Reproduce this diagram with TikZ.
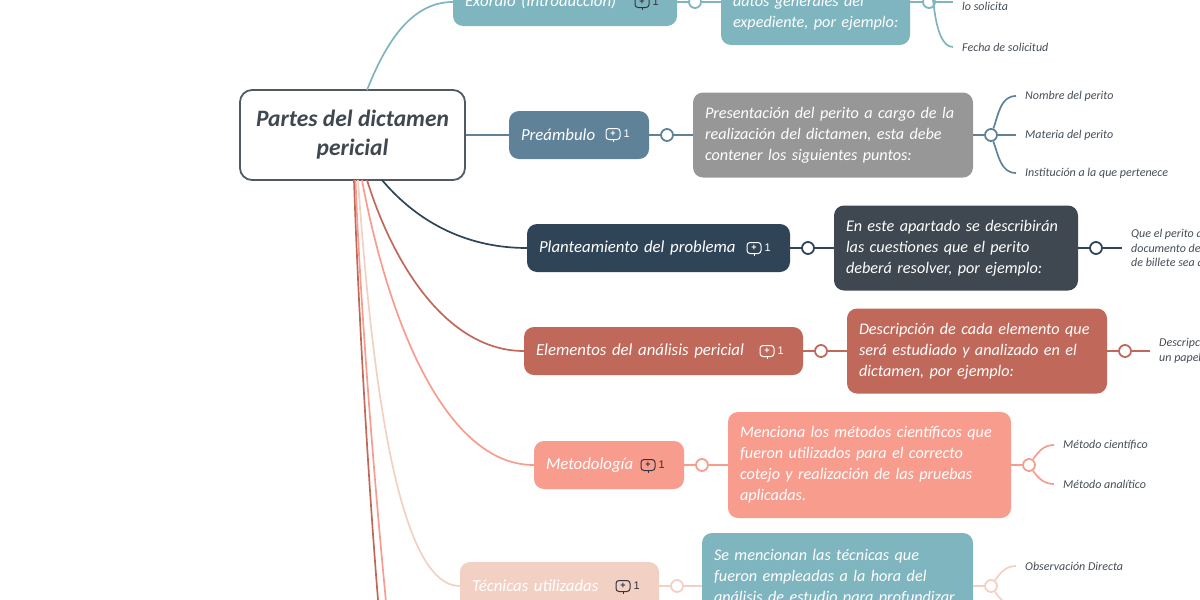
\documentclass[tikz,border=0pt]{standalone}
\usepackage{fontspec}
\setmainfont{Carlito}
\newfontfamily\countfont{Liberation Sans}
\usetikzlibrary{positioning}
\definecolor{exocol}{HTML}{7FB5BF}
\definecolor{precol}{HTML}{5F8299}
\definecolor{placol}{HTML}{2F4557}
\definecolor{elecol}{HTML}{C0685A}
\definecolor{metcol}{HTML}{F89C8E}
\definecolor{teccol}{HTML}{F2D1C4}
\definecolor{graycol}{HTML}{979797}
\definecolor{darkcol}{HTML}{3F4850}
\definecolor{leafcol}{HTML}{444D56}
\definecolor{notecol}{HTML}{33343C}
\tikzset{
  rootbox/.style={rectangle,rounded corners=12pt,draw=darkcol!90,line width=1.8pt,fill=white,text=darkcol,align=center,
    minimum width=225pt,minimum height=90pt,font=\fontsize{23.5}{29}\selectfont\bfseries\itshape},
  topicbox/.style={rectangle,rounded corners=10pt,fill=#1,text=white,align=left,inner xsep=12pt,inner ysep=0pt,
    minimum height=48pt,font=\fontsize{16.8}{21}\selectfont\itshape},
  detailbox/.style={topicbox=#1,minimum height=85pt,font=\fontsize{16.2}{21}\selectfont\itshape},
  leaf/.style={anchor=west,inner xsep=9pt,inner ysep=0pt,align=left,text=leafcol,font=\fontsize{12}{14.5}\selectfont\itshape},
  dot/.style={circle,draw=#1,fill=white,line width=1.8pt,inner sep=0pt,minimum size=12pt},
  link/.style={draw=#1,line width=1.7pt},
  noteicon/.style={rectangle,rounded corners=3pt,line width=1pt,inner sep=0pt,minimum width=14pt,minimum height=11pt,font=\fontsize{9}{9}\countfont\bfseries},
  notecount/.style={inner sep=0pt,font=\fontsize{11}{11}\countfont},
}
\newcommand{\notemark}[4]{
  \node[noteicon,draw=#4,text=#4] (#1) at (#2,#3) {+};
  \draw[#4,line width=1pt] (#1.south) -- ++(0,2);
  \node[notecount,text=#4,right=3pt of #1] (#1n) {1};
}
\begin{document}
\begin{tikzpicture}[x=1pt,y=-1pt]
  \clip (0,0) rectangle (1200,600);
  % centre and first level
  \node[rootbox] (root) at (352.5,135) {Partes del dictamen\\pericial};
  \node[topicbox=exocol,text width=200pt] (exordio) at (565,2) {Exordio (Introducción)};
  \node[topicbox=precol,text width=116pt] (preambulo) at (579,135) {Preámbulo};
  \node[topicbox=placol,text width=239pt] (problema) at (658.5,248) {Planteamiento del problema};
  \node[topicbox=elecol,text width=255pt] (elementos) at (663.5,351) {Elementos del análisis pericial};
  \node[topicbox=metcol,text width=126pt] (metodo) at (609,465) {Metodología};
  \node[topicbox=teccol,text width=175pt] (tecnicas) at (559.5,586) {Técnicas utilizadas};
  \notemark{noteexo}{642}{2}{notecol}
  \notemark{notepre}{613}{134}{white}
  \notemark{notepla}{754}{248}{white}
  \notemark{noteele}{767}{351}{white}
  \notemark{notemet}{648}{465}{notecol}
  \notemark{notetec}{623}{586}{notecol}
  % second level
  \node[detailbox=exocol,text width=165pt,minimum height=86pt] (exodet) at (815.5,2) {~\\[12pt]datos generales del\\\mbox{expediente, por ejemplo:}};
  \node[detailbox=graycol,text width=256pt] (predet) at (833,135) {Presentación del perito a cargo de la\\realización del dictamen, esta debe\\contener los siguientes puntos:};
  \node[detailbox=darkcol,text width=220pt] (pladet) at (956,248) {En este apartado se describirán\\las cuestiones que el perito\\deberá resolver, por ejemplo:};
  \node[detailbox=elecol,text width=236pt] (eledet) at (977,351) {Descripción de cada elemento que\\será estudiado y analizado en el\\dictamen, por ejemplo:};
  \node[detailbox=metcol,text width=259pt,minimum height=106pt] (metdet) at (869.5,465) {Menciona los métodos científicos que\\fueron utilizados para el correcto\\cotejo y realización de las pruebas\\aplicadas.};
  \node[detailbox=exocol,text width=247pt,minimum height=106pt] (tecdet) at (837.5,586) {Se mencionan las técnicas que\\fueron empleadas a la hora del\\análisis de estudio para profundizar\\~};
  % dots
  \node[dot=exocol] (exodot) at (695,2) {};
  \node[dot=precol] (predot) at (667,135) {};
  \node[dot=placol] (pladot) at (808,248) {};
  \node[dot=elecol] (eledot) at (821,351) {};
  \node[dot=metcol] (metdot) at (702,465) {};
  \node[dot=teccol] (tecdot) at (677,586) {};
  \node[dot=exocol] (exodot2) at (929,2) {};
  \node[dot=precol] (predot2) at (991,135) {};
  \node[dot=placol] (pladot2) at (1096,248) {};
  \node[dot=elecol] (eledot2) at (1125,351) {};
  \node[dot=metcol] (metdot2) at (1029,465) {};
  \node[dot=teccol] (tecdot2) at (991,586) {};
  % leaves
  \node[leaf] (exoleaf1) at (953,2) {~\\[2pt]lo solicita};
  \node[leaf] (exoleaf2) at (953,47) {Fecha de solicitud};
  \node[leaf] (preleaf1) at (1016,96) {Nombre del perito};
  \node[leaf] (preleaf2) at (1016,135) {Materia del perito};
  \node[leaf] (preleaf3) at (1016,173) {Institución a la que pertenece};
  \node[leaf] (plaleaf) at (1122,248) {Que el perito a\\documento de\\de billete sea a};
  \node[leaf] (eleleaf) at (1150,351) {Descripci\\un papel};
  \node[leaf] (metleaf1) at (1054,445) {Método científico};
  \node[leaf] (metleaf2) at (1054,484) {Método analítico};
  \node[leaf] (tecleaf1) at (1016,566) {Observación Directa};
  % ends on the edge of the centre box, and below the page
  \coordinate (rootexo) at (367,90);
  \coordinate (rootpla) at (382,180);
  \coordinate (rootele) at (367,180);
  \coordinate (rootmet) at (362,180);
  \coordinate (roottec) at (358,180);
  \coordinate (rootlow) at (354,180);
  \coordinate (rootlow2) at (355.5,180);
  \coordinate (lowend) at (379,612);
  \coordinate (lowend2) at (387,612);
  \coordinate (tecleaf2) at (1016,606);
  % links of the centre
  \draw[link=exocol] (rootexo) .. controls (385,45) and (410,2) .. (exordio.west);
  \draw[link=precol] (root) -- (preambulo);
  \draw[link=placol] (rootpla) .. controls (420,225) and (470,248) .. (problema.west);
  \draw[link=elecol] (rootele) .. controls (395,270) and (450,351) .. (elementos.west);
  \draw[link=metcol] (rootmet) .. controls (388,320) and (445,465) .. (metodo.west);
  \draw[link=teccol] (roottec) .. controls (372,380) and (398,586) .. (tecnicas.west);
  \draw[link=elecol] (rootlow) .. controls (358,300) and (368,480) .. (lowend);
  \draw[link=metcol] (rootlow2) .. controls (360,300) and (374,480) .. (lowend2);
  % links to the dots
  \draw[link=exocol] (exordio) -- (exodot) -- (exodet) -- (exodot2) -- (exoleaf1);
  \draw[link=precol] (preambulo) -- (predot) -- (predet) -- (predot2) -- (preleaf2);
  \draw[link=placol] (problema) -- (pladot) -- (pladet) -- (pladot2) -- (plaleaf);
  \draw[link=elecol] (elementos) -- (eledot) -- (eledet) -- (eledot2) -- (eleleaf);
  \draw[link=metcol] (metodo) -- (metdot) -- (metdet) -- (metdot2);
  \draw[link=teccol] (tecnicas) -- (tecdot) -- (tecdet) -- (tecdot2);
  % curved branches
  \draw[link=exocol] (exodot2) to[out=80,in=180] (exoleaf2.west);
  \draw[link=precol] (predot2) to[out=70,in=180] (preleaf1.west);
  \draw[link=precol] (predot2) to[out=-70,in=180] (preleaf3.west);
  \draw[link=metcol] (metdot2) to[out=55,in=180] (metleaf1.west);
  \draw[link=metcol] (metdot2) to[out=-55,in=180] (metleaf2.west);
  \draw[link=teccol] (tecdot2) to[out=55,in=180] (tecleaf1.west);
  \draw[link=teccol] (tecdot2) to[out=-55,in=180] (tecleaf2);
\end{tikzpicture}
\end{document}
